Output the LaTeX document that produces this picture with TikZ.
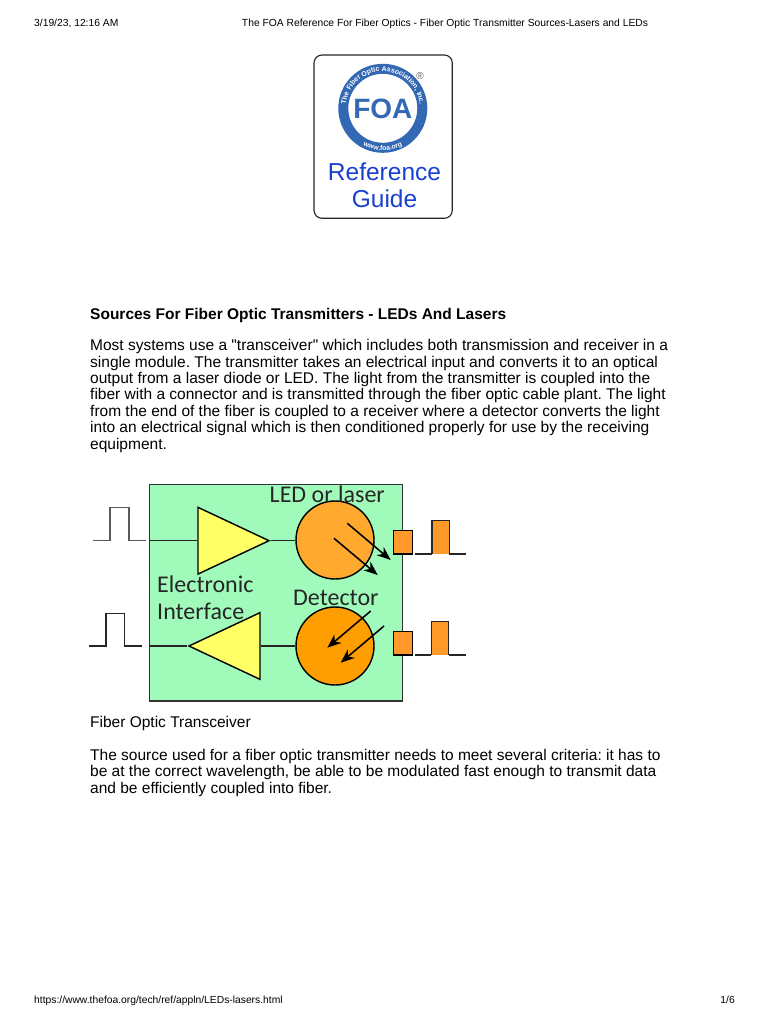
\documentclass[tikz,border=0pt]{standalone}
\usepackage{fontspec}
\setmainfont[Ligatures=TeXOff]{Liberation Sans}
\newfontfamily\labelfont{Carlito}
\usetikzlibrary{positioning,shapes.geometric,decorations.text,arrows.meta}
\frenchspacing

\definecolor{modulegreen}{RGB}{160,251,187}
\definecolor{ampyellow}{RGB}{255,255,102}
\definecolor{ledorange}{RGB}{255,170,46}
\definecolor{detorange}{RGB}{255,158,0}
\definecolor{portorange}{RGB}{255,154,42}
\definecolor{foablue}{RGB}{51,104,180}
\definecolor{guideblue}{RGB}{26,64,208}

\tikzset{
    pagetext/.style={anchor=base west, inner sep=0pt, align=left, font=\fontsize{15.5}{16.4}\selectfont},
    smalltext/.style={inner sep=0pt, font=\fontsize{10.3}{11}\selectfont},
    difflabel/.style={anchor=base west, inner sep=0pt, font=\labelfont\fontsize{24}{26}\selectfont, text=black!85},
    ampbox/.style={draw, line width=0.5mm, fill=ampyellow, inner sep=0pt, isosceles triangle, isosceles triangle stretches, minimum width=66.7pt, minimum height=71pt},
    diode/.style={draw, line width=0.5mm, circle, inner sep=0pt, minimum size=78pt},
    portbox/.style={draw, line width=0.4mm, fill=portorange, inner sep=0pt, minimum width=19.4pt, minimum height=23.3pt},
    wire/.style={line width=0.45mm, black!85},
    ray/.style={line width=0.55mm, -{Stealth[length=14pt,width=11pt]}}
}

\begin{document}
\begin{tikzpicture}[x=1pt,y=-1pt]
    \useasboundingbox (0,0) rectangle (768,1024);

    % header and footer
    \node[smalltext, anchor=base west] (stamp) at (34,27) {3/19/23, 12:16 AM};
    \node[smalltext, anchor=base] (pagetitle) at (445,27) {The FOA Reference For Fiber Optics - Fiber Optic Transmitter Sources-Lasers and LEDs};
    \node[smalltext, anchor=base west] (pageurl) at (34,1003) {https://www.thefoa.org/tech/ref/appln/LEDs-lasers.html};
    \node[smalltext, anchor=base east] (pagenum) at (735,1003) {1/6};

    % logo
    \draw[line width=0.4mm, black!85, rounded corners=8pt] (314,55) rectangle (452.3,218.3);
    \draw[line width=10pt, foablue] (382.8,108.3) circle (39.5);
    \node[inner sep=0pt, text=foablue, font=\fontsize{28}{28}\selectfont\bfseries] (foa) at (382.8,109) {FOA};
    \path[decorate, decoration={text along path, text align=center, text={|\fontsize{7}{8}\selectfont\bfseries\color{white}|The Fiber Optic Association, Inc.}}]
        (382.8,108.3) ++(172:37) arc[start angle=172, end angle=368, radius=37];
    \path[decorate, decoration={text along path, text align=center, text={|\fontsize{6.8}{8}\selectfont\bfseries\color{white}|www.foa.org}}]
        (382.8,108.3) ++(132:42) arc[start angle=132, end angle=48, radius=42];
    \node[inner sep=0pt, text=black!65, font=\fontsize{10}{10}\selectfont] (regmark) at (420,76) {®};
    \node[inner sep=0pt, text=guideblue, font=\fontsize{24.5}{24.5}\selectfont] (refword) at (384.5,171.5) {Reference};
    \node[inner sep=0pt, text=guideblue, font=\fontsize{24.5}{24.5}\selectfont] (guideword) at (384.5,198.5) {Guide};

    % text above
    \node[pagetext, font=\fontsize{15.5}{16.4}\selectfont\bfseries] (heading) at (90,319) {Sources For Fiber Optic Transmitters - LEDs And Lasers};
    \node[pagetext] (intro) at (90,449) {Most systems use a "transceiver" which includes both transmission and receiver in a\\
        single module. The transmitter takes an electrical input and converts it to an optical\\
        output from a laser diode or LED. The light from the transmitter is coupled into the\\
        fiber with a connector and is transmitted through the fiber optic cable plant. The light\\
        from the end of the fiber is coupled to a receiver where a detector converts the light\\
        into an electrical signal which is then conditioned properly for use by the receiving\\
        equipment.};

    % module
    \draw[line width=0.5mm, black!80, fill=modulegreen] (149.3,484.3) rectangle (402.7,701);
    \coordinate (txin) at (149.3,540.7);
    \coordinate (rxout) at (149.3,646);

    \node[ampbox, anchor=lower side] (txamp) at (197.3,540.7) {};
    \node[ampbox, shape border rotate=180, anchor=lower side] (rxamp) at (260.7,646) {};
    \node[diode, fill=ledorange] (led) at (335,540) {};
    \node[diode, fill=detorange] (det) at (335,646) {};
    \node[portbox] (txport) at (403,542.3) {};
    \node[portbox] (rxport) at (403,643.3) {};

    \draw[wire] (txin) -- (txamp.lower side);
    \draw[wire] (txamp.apex) -- (led.west |- txamp.apex);
    \draw[wire] (rxout) -- (rxamp.apex);
    \draw[wire] (rxamp.lower side) -- (det.west);

    % light paths
    \coordinate (rayA) at (347.3,523.3);
    \coordinate (rayAend) at (390.7,560);
    \coordinate (rayB) at (334,538.3);
    \coordinate (rayBend) at (377.7,575);
    \coordinate (rayC) at (370.7,611);
    \coordinate (rayCend) at (327.3,647.7);
    \coordinate (rayD) at (384,626);
    \coordinate (rayDend) at (340.7,662.7);
    \draw[ray] (rayA) -- (rayAend);
    \draw[ray] (rayB) -- (rayBend);
    \draw[ray] (rayC) -- (rayCend);
    \draw[ray] (rayD) -- (rayDend);

    \node[difflabel] (ledlabel) at (269.5,502) {LED or laser};
    \node[difflabel] (detlabel) at (293,605) {Detector};
    \node[difflabel] (elec) at (157,592.3) {Electronic};
    \node[difflabel] (iface) at (157,619) {Interface};

    % pulses
    \draw[wire, black!65] (93.3,540.7) -- (110,540.7) -- (110,507.3) -- (129,507.3) -- (129,540.7) -- (145.7,540.7);
    \draw[wire] (89,646) -- (106,646) -- (106,613.3) -- (124.3,613.3) -- (124.3,646) -- (142.3,646);
    \draw[wire, fill=portorange] (432,554) -- (432,520.7) -- (449.3,520.7) -- (449.3,554);
    \draw[wire] (415,554) -- (432,554);
    \draw[wire] (449.3,554) -- (465.7,554);
    \draw[wire, fill=portorange] (431.3,655) -- (431.3,621.7) -- (448.7,621.7) -- (448.7,655);
    \draw[wire] (415,655) -- (431.3,655);
    \draw[wire] (448.7,655) -- (465.7,655);

    % text below
    \node[pagetext] (caption) at (90,727) {Fiber Optic Transceiver};
    \node[pagetext] (criteria) at (90,793) {The source used for a fiber optic transmitter needs to meet several criteria: it has to\\
        be at the correct wavelength, be able to be modulated fast enough to transmit data\\
        and be efficiently coupled into fiber.};
\end{tikzpicture}
\end{document}
